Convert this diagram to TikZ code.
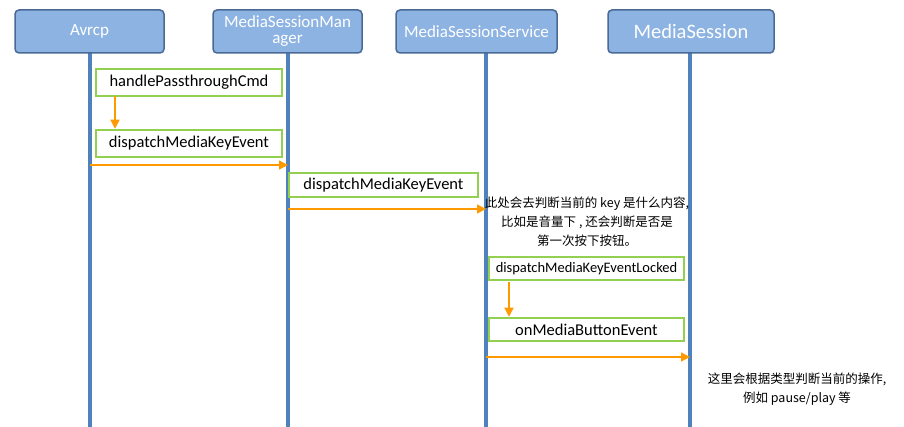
\documentclass[tikz,border=0pt]{standalone}
\usepackage{fontspec}
\setmainfont{Carlito}
\newfontfamily\cjk{Noto Sans CJK SC}
\usetikzlibrary{arrows.meta}
\definecolor{hdr}{HTML}{8DB3E2}
\definecolor{hdrb}{HTML}{4A6A96}
\definecolor{life}{HTML}{4F81BD}
\definecolor{grn}{HTML}{92D050}
\definecolor{org}{HTML}{FF9900}
\tikzset{
 x=1pt,y=-1pt,
 head/.style={draw=hdrb,line width=1.5pt,fill=hdr,rounded corners=4pt,text=white,font=\fontsize{17}{17}\selectfont,align=center,inner sep=0pt},
 fbox/.style={draw=grn,line width=2.5pt,fill=white,inner sep=0pt,font=\fontsize{16.5}{17}\selectfont},
 life/.style={draw=life,line width=4.5pt},
 msg/.style={draw=org,line width=1.3pt,-{Triangle[length=9pt,width=9pt]}},
 note/.style={font=\cjk\fontsize{12.5}{19}\selectfont,align=center}
}
\begin{document}
\begin{tikzpicture}
\useasboundingbox (0,0) rectangle (904,427);
\coordinate (l1) at (90,53); \coordinate (l1e) at (90,427);
\coordinate (l2) at (288,53); \coordinate (l2e) at (288,427);
\coordinate (l3) at (486,53); \coordinate (l3e) at (486,427);
\coordinate (l4) at (690,53); \coordinate (l4e) at (690,427);
\draw[life] (l1)--(l1e); \draw[life] (l2)--(l2e); \draw[life] (l3)--(l3e); \draw[life] (l4)--(l4e);
\node[head,minimum width=149pt,minimum height=43pt] (h1) at (89.5,31.5) {Avrcp};
\node[head,minimum width=149pt,minimum height=43pt,font=\fontsize{17}{16}\selectfont] (h2) at (287.5,31.5) {MediaSessionMan\\ager};
\node[head,minimum width=161pt,minimum height=43pt] (h3) at (476.5,31.5) {MediaSessionService};
\node[head,minimum width=166pt,minimum height=43pt,font=\fontsize{20.5}{20}\selectfont] (h4) at (691,31.5) {MediaSession};
\node[fbox,minimum width=186pt,minimum height=27pt] (b1) at (189,82.5) {handlePassthroughCmd};
\node[fbox,minimum width=186pt,minimum height=27pt] (b2) at (189,143.5) {dispatchMediaKeyEvent};
\node[fbox,minimum width=189pt,minimum height=24pt] (b3) at (383.5,185) {dispatchMediaKeyEvent};
\node[fbox,minimum width=195pt,minimum height=23pt,font=\fontsize{14.5}{15}\selectfont] (b4) at (586.5,268.5) {dispatchMediaKeyEventLocked};
\node[fbox,minimum width=195pt,minimum height=23pt] (b5) at (586.5,329.5) {onMediaButtonEvent};
\draw[msg] (115,96) -- (b2.north -| 115,0);
\coordinate (a1s) at (90,165); \coordinate (a1e) at (288,165);
\draw[msg] (a1s) -- (a1e);
\coordinate (a2s) at (288,209); \coordinate (a2e) at (486,209);
\draw[msg] (a2s) -- (a2e);
\draw[msg] (509,282) -- (b5.north -| 509,0);
\coordinate (a3s) at (486,357); \coordinate (a3e) at (690,357);
\draw[msg] (a3s) -- (a3e);
\node[note] (n1) at (587,222) {此处会去判断当前的 key 是什么内容,\\比如是音量下 , 还会判断是否是\\第一次按下按钮。};
\node[note] (n2) at (797,389) {这里会根据类型判断当前的操作,\\例如 pause/play 等};
\end{tikzpicture}
\end{document}
